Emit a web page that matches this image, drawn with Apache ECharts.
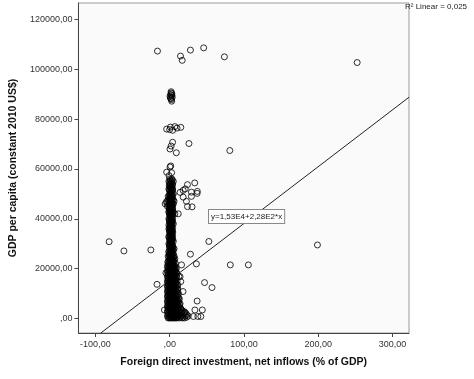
<!DOCTYPE html>
<html>
<head>
<meta charset="utf-8">
<script src="https://cdn.jsdelivr.net/npm/echarts@6/dist/echarts.min.js"></script>
<style>html,body{margin:0;padding:0;background:#fff}#c{width:474px;height:379px}</style>
</head>
<body>
<div id="c"></div>
<script>
// ---- data ----
const xTicks = [-100, 0, 100, 200, 300];
const yTicks = [0, 20000, 40000, 60000, 80000, 100000, 120000];
const xTitle = 'Foreign direct investment, net inflows (% of GDP)';
const yTitle = 'GDP per capita (constant 2010 US$)';
const fitIntercept = 15300;
const fitSlope = 228;
const fitText = 'y=1,53E4+2,28E2*x';
const r2Text = 'R\u00B2 Linear = 0,025';

// scattered points [fdi, gdp]
const outliers = [
  [-16.4,107300],[14.6,105300],[16.9,103600],[28,107700],[45.8,108600],[73.7,105000],[252.5,102700],
  [2,90500],[3,89500],[1,88500],[2.5,87800],[3.5,88800],[2,91000],[1.5,89800],[0.5,89200],[3,90200],[1.8,88200],[2.8,87200],
  [-4,76000],[1,76800],[7,77000],[15,76700],[4,75500],[0,75800],[10,76400],
  [4,70700],[26,70200],[81,67400],[0.5,68000],[9,66500],[2,69200],
  [-4,58700],[0.5,60800],[2.7,58500],[-0.8,57300],[1.5,61200],
  [24,53700],[33.8,54400],[18.2,51400],[29.3,50700],[37.3,51000],[37,50200],[22.6,47000],
  [24,44900],[30.2,44800],[18.2,48700],[11.6,42000],[29.3,49000],[14,50600],[21,52000],
  [-81.5,30800],[-61.6,27100],[-25.3,27500],[-17,13700],
  [81.7,21500],[106,21500],[199,29500],[52.8,30900],[47,14400],[57,12400],
  [28,25800],[36,21900],[37,7000],[44,3400],[34,3400],[32,800],[38,800],[42,800],
  [18,10800],[20,2700],[-5,18300],[-7,3400],[14,16800],[15,14800],[16,21500],[12.5,16800]
];

// dense column: [gdp, fdi values...]
const columnRows = [
  [56000,0,3],[55000,-1,2,5],[54000,1,4],[53000,0,3],[52000,-1,2,4],[51000,1,3],
  [50000,0,2,5],[49000,-2,1,3],[48000,0,2,4],[47000,-4,1,3,6],[46000,-6,0,2,5],
  [45000,-3,1,3],[44000,0,2,4],[43000,-1,1,3],[42000,0,2,4,7],[41000,1,3],
  [40000,-1,2,4],[39000,0,2,3],[38000,1,3,5],[37000,0,2],[36000,-1,1,3],
  [35000,0,2,4],[34000,1,3],[33000,-1,2,4],[32000,0,2,3],[31000,1,3,5],
  [30000,-1,1,3],[29000,0,2,4],[28000,1,3,6],[27000,-1,2,4],[26000,0,2,5],
  [25000,-2,1,3,6],[24000,0,2,4,7],[23000,-2,1,3,5],[22000,-1,2,4,8],
  [21000,-3,0,2,5,7],[20000,-2,1,3,6,9],[19000,-3,0,2,4,7],[18000,-2,1,3,5,8,10],
  [17000,-3,0,2,4,6,9],[16000,-2,1,3,5,8],[15000,-3,0,2,4,7,10],[14000,-2,1,3,6,9],
  [13000,-3,0,2,4,7],[12000,-2,1,3,5,8,11],[11000,-3,0,2,4,6,9],[10000,-2,1,3,5,8,12],
  [9000,-3,0,2,4,6,10],[8000,-2,1,3,5,7,9,13],[7000,-3,0,2,4,6,8,11],
  [6000,-2,1,3,5,7,10,14],[5000,-3,0,2,4,6,9,12],[4000,-2,1,3,5,8,11,15],
  [3000,-3,0,2,4,6,9,13,17],[2000,-2,1,3,5,7,10,14,19,22],
  [1000,-3,0,2,4,6,8,12,16,21,25],[500,-1,1,3,5,7,9,11,15,18,23],
  [200,-2,0,2,4,6,8,10,13,17,20]
];
const columnRowsB = [
  [55500,1,3.5],[54500,0,2.5],[53500,-0.5,1.5,3.5],[52500,0.5,2.5],[51500,-0.5,2,4],[50500,1,3],
  [49500,0,2,4],[48500,-1,1,3],[47500,-2,0.5,2.5,5],[46500,-4,-1,1.5,3.5],[45500,-1.5,0.5,2.5,4],
  [44500,-0.5,1.5,3.5],[43500,0,2,4],[42500,-1,1,3,5],[41500,0,2,4],[40500,0.5,2.5],
  [39500,-0.5,1.5,3.5],[38500,0,2,4],[37500,-1,1,3],[36500,0.5,2.5,4],[35500,-0.5,1.5,3],
  [34500,0,2,4],[33500,0.5,3],[32500,-1,1,3.5],[31500,0,2,4],[30500,0.5,2.5],
  [29500,-0.5,1.5,3.5],[28500,0,2,4.5],[27500,0.5,3,5],[26500,-1,1.5,3.5],[25500,-0.5,2,4],
  [24500,-1,1,3,5.5],[23500,-0.5,2,4,6],[22500,-2.5,0.5,3,6],[21500,-1.5,1,3.5,6],
  [20500,-2.5,0,2,4.5,7.5],[19500,-1.5,1,3,5.5,8],[18500,-2.5,0,2,4,6.5,9],
  [17500,-1.5,1,3,5,7.5],[16500,-2.5,0,2,4,6.5,9.5],[15500,-1.5,1,3,5.5,8.5],
  [14500,-2.5,0,2,4.5,7.5],[13500,-1.5,1,3,5.5,8.5,11],[12500,-2.5,0,2,4,6.5,9.5],
  [11500,-1.5,1,3,5,7.5,10.5],[10500,-2.5,0,2,4,6.5,10],[9500,-1.5,1,3,5,7.5,11],
  [8500,-2.5,0,2,4,6,8,11.5],[7500,-1.5,1,3,5,7,9.5,12.5],[6500,-2.5,0,2,4,6,8.5,12],
  [5500,-1.5,1,3,5,7.5,10.5,13.5],[4500,-2.5,0,2,4,6.5,9.5,13],
  [3500,-1.5,1,3,5,7.5,10.5,14.5,16],[2500,-2.5,0,2,4,6,8.5,12,16,20],
  [1500,-1.5,1,3,5,7,9.5,13,17.5,23]
];

// ---- build ----
const points = outliers.slice();
columnRows.concat(columnRowsB).forEach(r => { for (let i = 1; i < r.length; i++) points.push([r[i], r[0]]); });

const xMin = -122.8, xMax = 322.3, yMin = -5830, yMax = 126600;
const xStart = (yMin - fitIntercept) / fitSlope;
const fitLine = [[xStart, fitIntercept + fitSlope * xStart], [xMax, fitIntercept + fitSlope * xMax]];

const fmt = v => (v === 0 ? '' : String(v)) + ',00';
const font = 'Liberation Sans, Arial, sans-serif';

const chart = echarts.init(document.getElementById('c'), null, {renderer: 'canvas'});
chart.setOption({
  animation: false,
  grid: {left: 74, top: 3, right: 65, bottom: 46, show: true, backgroundColor: '#fbfafa', borderColor: '#9a9a9a', borderWidth: 1},
  xAxis: {
    type: 'value', min: xMin, max: xMax,
    name: xTitle, nameLocation: 'middle', nameGap: 24,
    nameTextStyle: {fontFamily: font, fontWeight: 'bold', fontSize: 10.5, color: '#111'},
    axisLine: {show: true, onZero: false, lineStyle: {color: '#444', width: 1}},
    axisTick: {show: true, length: 4, lineStyle: {color: '#444'}, customValues: xTicks},
    axisLabel: {fontFamily: font, fontSize: 9, color: '#333', margin: 7, formatter: fmt, customValues: xTicks},
    splitLine: {show: false}
  },
  yAxis: {
    type: 'value', min: yMin, max: yMax,
    name: yTitle, nameLocation: 'middle', nameGap: 54, nameRotate: 90,
    nameTextStyle: {fontFamily: font, fontWeight: 'bold', fontSize: 10.5, color: '#111'},
    axisLine: {show: true, onZero: false, lineStyle: {color: '#444', width: 1}},
    axisTick: {show: true, length: 4, lineStyle: {color: '#444'}, customValues: yTicks},
    axisLabel: {fontFamily: font, fontSize: 9, color: '#333', margin: 6, formatter: fmt, customValues: yTicks},
    splitLine: {show: false}
  },
  series: [
    {
      type: 'line', data: fitLine, symbol: 'none', silent: true, clip: true,
      lineStyle: {color: '#222', width: 1}, z: 1
    },
    {
      type: 'scatter', data: points, symbol: 'circle', symbolSize: 6, silent: true,
      itemStyle: {color: 'rgba(0,0,0,0)', borderColor: '#000', borderWidth: 1}, z: 2
    }
  ],
  graphic: [
    {type: 'text', left: 208, top: 209, z: 10,
     style: {text: fitText, fontFamily: font, fontSize: 8, fill: '#222', backgroundColor: '#fff',
             borderColor: '#888', borderWidth: 1, padding: [3, 2, 2, 2]}},
    {type: 'text', left: 405, top: 3, z: 10,
     style: {text: r2Text, fontFamily: font, fontSize: 8, fill: '#222'}}
  ]
});
</script>
</body>
</html>
